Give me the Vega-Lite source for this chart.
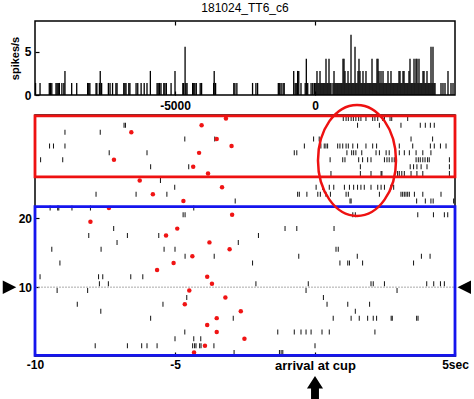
{
"$schema": "https://vega.github.io/schema/vega-lite/v6.json",
"padding": {"left": 2, "top": 1, "right": 3, "bottom": 0},
"bounds": "flush",
"spacing": 20,
"background": "white",
"config": {
  "view": {"stroke": "black", "strokeWidth": 1.5},
  "axis": {"labelFont": "Liberation Sans", "labelFontWeight": "bold", "labelFontSize": 12, "labelColor": "black", "tickColor": "black", "tickWidth": 1.2, "tickSize": -4, "domain": false, "grid": false, "labelFlush": false, "titleFont": "Liberation Sans", "titleFontWeight": "bold", "titleColor": "black"}
},
"datasets": {
  "hist": [
    {"t":-9980,"v":1.4},{"t":-9820,"v":1.4},{"t":-9490,"v":1.4},{"t":-9450,"v":1.4},{"t":-9400,"v":1.4},{"t":-9250,"v":1.4},{"t":-9210,"v":1.4},{"t":-9170,"v":1.4},{"t":-9130,"v":1.4},{"t":-9040,"v":1.4},{"t":-8970,"v":1.4},{"t":-8930,"v":2.8},{"t":-8690,"v":1.4},{"t":-8510,"v":1.4},{"t":-8120,"v":1.4},{"t":-8080,"v":1.4},{"t":-8040,"v":1.4},{"t":-7820,"v":1.4},{"t":-7790,"v":1.4},{"t":-7700,"v":1.4},{"t":-7670,"v":2.8},{"t":-7620,"v":1.4},{"t":-7380,"v":1.4},{"t":-7320,"v":1.4},{"t":-7230,"v":1.4},{"t":-7110,"v":1.4},{"t":-7070,"v":1.4},{"t":-6830,"v":1.4},{"t":-6790,"v":1.4},{"t":-6750,"v":1.4},{"t":-6650,"v":1.4},{"t":-6610,"v":1.4},{"t":-6390,"v":1.4},{"t":-6330,"v":1.4},{"t":-6210,"v":1.4},{"t":-6100,"v":1.4},{"t":-6000,"v":1.4},{"t":-5880,"v":2.8},{"t":-5640,"v":1.4},{"t":-5600,"v":1.4},{"t":-5550,"v":1.4},{"t":-5500,"v":1.4},{"t":-5400,"v":1.4},{"t":-5360,"v":1.4},{"t":-5310,"v":1.4},{"t":-5140,"v":1.4},{"t":-5000,"v":2.8},{"t":-4720,"v":1.4},{"t":-4690,"v":1.4},{"t":-4640,"v":5.6},{"t":-4610,"v":1.4},{"t":-4570,"v":1.4},{"t":-4370,"v":1.4},{"t":-4330,"v":1.4},{"t":-4290,"v":1.4},{"t":-4240,"v":1.4},{"t":-4100,"v":1.4},{"t":-4050,"v":1.4},{"t":-3620,"v":1.4},{"t":-3600,"v":2.8},{"t":-3550,"v":1.4},{"t":-2900,"v":1.4},{"t":-2860,"v":1.4},{"t":-2790,"v":1.4},{"t":-2230,"v":1.4},{"t":-2110,"v":1.4},{"t":-2050,"v":1.4},{"t":-1310,"v":1.4},{"t":-1260,"v":1.4},{"t":-1210,"v":1.4},{"t":-1140,"v":1.4},{"t":-1100,"v":1.4},{"t":-760,"v":2.8},{"t":-710,"v":1.4},{"t":-670,"v":1.4},{"t":-620,"v":2.8},{"t":-580,"v":2.8},{"t":-500,"v":1.4},{"t":-350,"v":1.4},{"t":-310,"v":4.2},{"t":-260,"v":1.4},{"t":-140,"v":1.4},{"t":-80,"v":1.4},{"t":-25,"v":1.4},
    {"t":0,"v":1.4},{"t":36,"v":1.4},{"t":71,"v":2.8},{"t":107,"v":1.4},{"t":143,"v":1.4},{"t":179,"v":2.8},{"t":214,"v":1.4},{"t":250,"v":1.4},{"t":286,"v":1.4},{"t":321,"v":1.4},{"t":357,"v":1.4},{"t":393,"v":4.2},{"t":429,"v":1.4},{"t":464,"v":1.4},{"t":500,"v":4.2},{"t":536,"v":1.4},{"t":571,"v":1.4},{"t":643,"v":1.4},{"t":679,"v":2.8},{"t":714,"v":1.4},{"t":750,"v":1.4},{"t":786,"v":1.4},{"t":821,"v":1.4},{"t":857,"v":1.4},{"t":893,"v":1.4},{"t":929,"v":1.4},{"t":964,"v":1.4},{"t":1000,"v":4.2},{"t":1036,"v":4.2},{"t":1071,"v":2.8},{"t":1107,"v":1.4},{"t":1143,"v":1.4},{"t":1179,"v":2.8},{"t":1214,"v":1.4},{"t":1250,"v":1.4},{"t":1286,"v":7.0},{"t":1321,"v":1.4},{"t":1357,"v":1.4},{"t":1393,"v":1.4},{"t":1429,"v":5.6},{"t":1464,"v":1.4},{"t":1500,"v":1.4},{"t":1536,"v":2.8},{"t":1571,"v":4.2},{"t":1607,"v":2.8},{"t":1643,"v":1.4},{"t":1679,"v":1.4},{"t":1714,"v":2.8},{"t":1750,"v":1.4},{"t":1786,"v":1.4},{"t":1821,"v":2.8},{"t":1857,"v":1.4},{"t":1893,"v":1.4},{"t":1929,"v":1.4},{"t":1964,"v":1.4},{"t":2000,"v":1.4},{"t":2036,"v":4.2},{"t":2071,"v":1.4},{"t":2107,"v":1.4},{"t":2143,"v":1.4},{"t":2179,"v":1.4},{"t":2214,"v":4.2},{"t":2250,"v":4.2},{"t":2286,"v":2.8},{"t":2321,"v":1.4},{"t":2357,"v":2.8},{"t":2393,"v":1.4},{"t":2429,"v":2.8},{"t":2464,"v":1.4},{"t":2500,"v":1.4},{"t":2536,"v":1.4},{"t":2571,"v":1.4},{"t":2607,"v":2.8},{"t":2643,"v":1.4},{"t":2679,"v":1.4},{"t":2714,"v":2.8},{"t":2750,"v":1.4},{"t":2786,"v":1.4},{"t":2821,"v":1.4},{"t":2857,"v":1.4},{"t":2893,"v":1.4},{"t":2929,"v":1.4},{"t":2964,"v":1.4},{"t":3000,"v":2.8},{"t":3036,"v":2.8},{"t":3071,"v":1.4},{"t":3107,"v":1.4},{"t":3143,"v":2.8},{"t":3179,"v":2.8},{"t":3214,"v":1.4},{"t":3250,"v":1.4},{"t":3286,"v":1.4},{"t":3321,"v":1.4},{"t":3357,"v":2.8},{"t":3393,"v":4.2},{"t":3429,"v":1.4},{"t":3464,"v":1.4},{"t":3500,"v":1.4},{"t":3536,"v":4.2},{"t":3571,"v":1.4},{"t":3607,"v":4.2},{"t":3643,"v":4.2},{"t":3679,"v":1.4},{"t":3714,"v":4.2},{"t":3750,"v":1.4},{"t":3786,"v":1.4},{"t":3821,"v":1.4},{"t":3857,"v":2.8},{"t":3893,"v":2.8},{"t":3929,"v":1.4},{"t":3964,"v":1.4},{"t":4000,"v":2.8},{"t":4036,"v":1.4},{"t":4071,"v":1.4},{"t":4107,"v":1.4},{"t":4143,"v":5.6},{"t":4179,"v":1.4},{"t":4214,"v":5.6},{"t":4250,"v":1.4},{"t":4286,"v":1.4},{"t":4500,"v":1.4},{"t":4571,"v":1.4},{"t":4643,"v":1.4},{"t":4750,"v":2.8},{"t":4857,"v":1.4},{"t":4929,"v":1.4}
  ],
  "spikes": [
    {"t":1.01,"trial":34.5},{"t":1.11,"trial":34.5},{"t":1.19,"trial":34.5},{"t":1.29,"trial":34.5},{"t":1.37,"trial":34.5},{"t":1.46,"trial":34.5},{"t":1.56,"trial":34.5},{"t":1.64,"trial":34.5},{"t":1.82,"trial":34.5},{"t":2.06,"trial":34.5},{"t":2.14,"trial":34.5},{"t":2.24,"trial":34.5},{"t":2.42,"trial":34.5},{"t":2.48,"trial":34.5},{"t":2.68,"trial":34.5},{"t":2.74,"trial":34.5},{"t":3.31,"trial":34.5},
    {"t":-6.82,"trial":33.5},{"t":-6.77,"trial":33.5},{"t":1.52,"trial":33.5},{"t":2.30,"trial":33.5},{"t":3.07,"trial":33.5},{"t":3.76,"trial":33.5},{"t":3.94,"trial":33.5},{"t":4.12,"trial":33.5},{"t":4.26,"trial":33.5},
    {"t":-8.93,"trial":32.5},{"t":-7.67,"trial":32.5},
    {"t":-4.65,"trial":31.5},{"t":-3.58,"trial":31.5},{"t":-0.05,"trial":31.5},{"t":0.15,"trial":31.5},{"t":3.43,"trial":31.5},{"t":4.20,"trial":31.5},
    {"t":-9.48,"trial":30.5},{"t":-9.34,"trial":30.5},{"t":-8.93,"trial":30.5},{"t":-0.38,"trial":30.5},{"t":0.21,"trial":30.5},{"t":0.33,"trial":30.5},{"t":0.39,"trial":30.5},{"t":0.45,"trial":30.5},{"t":0.81,"trial":30.5},{"t":0.89,"trial":30.5},{"t":0.99,"trial":30.5},{"t":1.11,"trial":30.5},{"t":1.19,"trial":30.5},{"t":1.35,"trial":30.5},{"t":1.52,"trial":30.5},{"t":1.82,"trial":30.5},{"t":2.06,"trial":30.5},{"t":2.20,"trial":30.5},{"t":3.01,"trial":30.5},{"t":3.49,"trial":30.5},{"t":4.12,"trial":30.5},{"t":4.26,"trial":30.5},{"t":4.48,"trial":30.5},{"t":4.68,"trial":30.5},
    {"t":-7.35,"trial":29.5},{"t":-6.0,"trial":29.5},{"t":-0.74,"trial":29.5},{"t":-0.65,"trial":29.5},{"t":1.14,"trial":29.5},{"t":1.31,"trial":29.5},{"t":1.38,"trial":29.5},{"t":1.46,"trial":29.5},{"t":1.67,"trial":29.5},{"t":2.18,"trial":29.5},{"t":2.30,"trial":29.5},{"t":2.54,"trial":29.5},{"t":2.65,"trial":29.5},{"t":3.01,"trial":29.5},{"t":3.19,"trial":29.5},{"t":3.37,"trial":29.5},{"t":3.61,"trial":29.5},{"t":3.85,"trial":29.5},{"t":4.14,"trial":29.5},
    {"t":-9.8,"trial":28.5},{"t":-9.01,"trial":28.5},{"t":0.54,"trial":28.5},{"t":0.99,"trial":28.5},{"t":1.07,"trial":28.5},{"t":1.56,"trial":28.5},{"t":1.70,"trial":28.5},{"t":1.88,"trial":28.5},{"t":2.0,"trial":28.5},{"t":2.48,"trial":28.5},{"t":2.57,"trial":28.5},{"t":2.65,"trial":28.5},{"t":2.75,"trial":28.5},{"t":2.83,"trial":28.5},{"t":3.61,"trial":28.5},{"t":3.69,"trial":28.5},{"t":3.76,"trial":28.5},{"t":3.85,"trial":28.5},{"t":3.93,"trial":28.5},{"t":4.02,"trial":28.5},{"t":4.08,"trial":28.5},{"t":4.80,"trial":28.5},
    {"t":-5.87,"trial":27.5},{"t":-4.51,"trial":27.5},{"t":1.62,"trial":27.5},{"t":3.40,"trial":27.5},{"t":3.52,"trial":27.5},{"t":3.64,"trial":27.5},{"t":3.79,"trial":27.5},{"t":4.0,"trial":27.5},{"t":4.80,"trial":27.5},
    {"t":0.57,"trial":26.5},{"t":1.62,"trial":26.5},{"t":2.0,"trial":26.5},{"t":2.36,"trial":26.5},{"t":2.39,"trial":26.5},{"t":2.95,"trial":26.5},{"t":3.01,"trial":26.5},{"t":3.10,"trial":26.5},{"t":3.19,"trial":26.5},{"t":3.43,"trial":26.5},{"t":3.64,"trial":26.5},{"t":3.85,"trial":26.5},{"t":4.80,"trial":26.5},
    {"t":-5.52,"trial":25.5},
    {"t":-5.01,"trial":24.5},{"t":0.04,"trial":24.5},{"t":0.27,"trial":24.5},{"t":0.51,"trial":24.5},{"t":0.67,"trial":24.5},{"t":1.05,"trial":24.5},{"t":1.23,"trial":24.5},{"t":1.38,"trial":24.5},{"t":1.52,"trial":24.5},{"t":1.64,"trial":24.5},{"t":1.76,"trial":24.5},{"t":2.0,"trial":24.5},{"t":2.24,"trial":24.5},{"t":2.36,"trial":24.5},{"t":2.48,"trial":24.5},{"t":2.71,"trial":24.5},{"t":2.81,"trial":24.5},
    {"t":-7.82,"trial":23.5},{"t":-6.39,"trial":23.5},{"t":-5.29,"trial":23.5},{"t":-0.62,"trial":23.5},{"t":-0.56,"trial":23.5},{"t":-0.29,"trial":23.5},{"t":0.10,"trial":23.5},{"t":0.19,"trial":23.5},{"t":0.39,"trial":23.5},{"t":0.55,"trial":23.5},{"t":1.11,"trial":23.5},{"t":1.19,"trial":23.5},{"t":2.30,"trial":23.5},{"t":3.07,"trial":23.5},{"t":3.13,"trial":23.5},{"t":3.19,"trial":23.5},{"t":3.25,"trial":23.5},{"t":3.31,"trial":23.5},{"t":3.37,"trial":23.5},{"t":3.55,"trial":23.5},{"t":3.85,"trial":23.5},{"t":4.5,"trial":23.5},
    {"t":-2.85,"trial":22.5},{"t":1.25,"trial":22.5},{"t":1.29,"trial":22.5},{"t":3.63,"trial":22.5},{"t":3.94,"trial":22.5},{"t":4.14,"trial":22.5},{"t":4.22,"trial":22.5},{"t":4.95,"trial":22.5},
    {"t":-9.46,"trial":21.5},{"t":-9.19,"trial":21.5},{"t":-9.15,"trial":21.5},{"t":-8.68,"trial":21.5},{"t":-8.02,"trial":21.5},{"t":-4.33,"trial":21.5},
    {"t":-4.71,"trial":20.5},{"t":-4.64,"trial":20.5},{"t":1.35,"trial":20.5},{"t":1.44,"trial":20.5},{"t":3.67,"trial":20.5},{"t":4.23,"trial":20.5},{"t":4.62,"trial":20.5},{"t":4.74,"trial":20.5},
    {"t":-7.19,"trial":18.5},{"t":-1.07,"trial":18.5},{"t":-0.65,"trial":18.5},{"t":0.68,"trial":18.5},
    {"t":-8.08,"trial":17.5},{"t":-6.70,"trial":17.5},{"t":-5.58,"trial":17.5},{"t":-2.02,"trial":17.5},
    {"t":-7.07,"trial":16.5},{"t":-2.74,"trial":16.5},
    {"t":-9.40,"trial":15.5},{"t":-7.64,"trial":15.5},{"t":-5.39,"trial":15.5},{"t":-5.0,"trial":15.5},{"t":0.75,"trial":15.5},{"t":0.83,"trial":15.5},
    {"t":-4.64,"trial":14.5},{"t":-3.6,"trial":14.5},{"t":-0.58,"trial":14.5},{"t":1.51,"trial":14.5},{"t":3.80,"trial":14.5},{"t":4.11,"trial":14.5},
    {"t":-9.11,"trial":13.5},{"t":-2.23,"trial":13.5},{"t":0.89,"trial":13.5},{"t":1.17,"trial":13.5},{"t":1.23,"trial":13.5},{"t":1.70,"trial":13.5},{"t":3.52,"trial":13.5},
    {"t":-9.82,"trial":11.5},{"t":-7.73,"trial":11.5},{"t":-7.58,"trial":11.5},{"t":-6.58,"trial":11.5},{"t":-6.15,"trial":11.5},
    {"t":-7.70,"trial":10.5},{"t":-7.38,"trial":10.5},{"t":-2.11,"trial":10.5},{"t":-0.24,"trial":10.5},{"t":2.0,"trial":10.5},{"t":2.08,"trial":10.5},{"t":2.48,"trial":10.5},{"t":3.99,"trial":10.5},{"t":4.24,"trial":10.5},{"t":4.48,"trial":10.5},{"t":4.62,"trial":10.5},
    {"t":-9.21,"trial":9.5},{"t":-8.12,"trial":9.5},{"t":-0.32,"trial":9.5},{"t":2.93,"trial":9.5},
    {"t":-4.58,"trial":8.5},{"t":0.30,"trial":8.5},
    {"t":-8.49,"trial":7.5},{"t":-5.43,"trial":7.5},{"t":0.43,"trial":7.5},{"t":1.17,"trial":7.5},{"t":1.95,"trial":7.5},
    {"t":-7.65,"trial":6.5},{"t":1.44,"trial":6.5},
    {"t":-5.87,"trial":5.5},{"t":-2.92,"trial":5.5},{"t":0.65,"trial":5.5},{"t":1.29,"trial":5.5},{"t":1.58,"trial":5.5},{"t":1.88,"trial":5.5},{"t":2.08,"trial":5.5},{"t":2.20,"trial":5.5},{"t":2.72,"trial":5.5},{"t":2.76,"trial":5.5},{"t":3.63,"trial":5.5},{"t":3.68,"trial":5.5},
    {"t":-4.65,"trial":3.5},{"t":-1.33,"trial":3.5},{"t":-0.74,"trial":3.5},{"t":-0.5,"trial":3.5},{"t":-0.32,"trial":3.5},{"t":-0.14,"trial":3.5},{"t":0.25,"trial":3.5},{"t":0.51,"trial":3.5},{"t":2.14,"trial":3.5},
    {"t":-5.0,"trial":2.5},{"t":-4.33,"trial":2.5},{"t":-4.08,"trial":2.5},
    {"t":-7.85,"trial":1.5},{"t":-6.70,"trial":1.5},{"t":-6.19,"trial":1.5},{"t":-6.0,"trial":1.5},{"t":-5.64,"trial":1.5},{"t":-4.37,"trial":1.5},{"t":-4.30,"trial":1.5},{"t":-4.25,"trial":1.5},{"t":-4.12,"trial":1.5},{"t":-4.07,"trial":1.5},{"t":-3.61,"trial":1.5},{"t":0.0,"trial":1.5},
    {"t":-2.89,"trial":0.5},{"t":-1.27,"trial":0.5},{"t":-1.21,"trial":0.5},{"t":-1.15,"trial":0.5}
  ],
  "events": [
    {"t":-3.18,"trial":34.5},{"t":-4.05,"trial":33.5},{"t":-6.56,"trial":32.5},{"t":-3.51,"trial":31.5},{"t":-2.98,"trial":30.5},{"t":-4.14,"trial":29.5},{"t":-7.18,"trial":28.5},{"t":-4.35,"trial":27.5},{"t":-3.82,"trial":26.5},{"t":-6.26,"trial":25.5},{"t":-3.32,"trial":24.5},{"t":-5.79,"trial":23.5},{"t":-4.70,"trial":22.5},{"t":-7.36,"trial":21.5},{"t":-2.96,"trial":20.5},{"t":-8.02,"trial":19.5},{"t":-4.92,"trial":18.5},{"t":-5.32,"trial":17.5},{"t":-3.77,"trial":16.5},{"t":-3.05,"trial":15.5},{"t":-4.38,"trial":14.5},{"t":-5.05,"trial":13.5},{"t":-5.64,"trial":12.5},{"t":-3.85,"trial":11.5},{"t":-3.68,"trial":10.5},{"t":-4.49,"trial":9.5},{"t":-3.20,"trial":8.5},{"t":-4.65,"trial":7.5},{"t":-2.65,"trial":6.5},{"t":-3.51,"trial":5.5},{"t":-3.85,"trial":4.5},{"t":-3.51,"trial":3.5},{"t":-2.52,"trial":2.5},{"t":-3.93,"trial":1.5},{"t":-4.32,"trial":0.5}
  ],
  "boxes": [
    {"t": -10, "t2": 5, "trial": 26.02, "trial2": 34.87, "box": "red"},
    {"t": -10, "t2": 5, "trial": 0.1, "trial2": 21.7, "box": "blue"}
  ]
},
"vconcat": [
  {
    "width": 420, "height": 74,
    "title": {"text": "181024_TT6_c6", "font": "Liberation Sans", "fontSize": 12, "fontWeight": "normal", "color": "black", "baseline": "alphabetic", "offset": -4, "anchor": "middle"},
    "data": {"name": "hist"},
    "layer": [
      {"mark": {"type": "rule", "color": "black", "strokeWidth": 1.3},
       "encoding": {
         "x": {"field": "t", "type": "quantitative", "scale": {"domain": [-10000, 5000], "nice": false, "zero": false}, "axis": {"orient": "bottom", "values": [-5000, 0], "title": null, "labelPadding": 9.5, "labelExpr": "'' + datum.value"}},
         "y": {"field": "v", "type": "quantitative", "scale": {"domain": [0, 8.6], "nice": false}, "axis": {"values": [0, 5], "title": "spikes/s", "titleFontSize": 11, "titlePadding": 4, "labelPadding": 8}},
         "y2": {"datum": 0}
       }},
      {"mark": {"type": "point", "opacity": 0},
       "encoding": {
         "x": {"field": "t", "type": "quantitative", "scale": {"domain": [-10000, 5000], "nice": false, "zero": false}, "axis": {"orient": "top", "values": [-5000, 0], "labels": false, "title": null}},
         "y": {"field": "v", "type": "quantitative", "scale": {"domain": [0, 8.6], "nice": false}, "axis": {"values": [0, 5], "title": "spikes/s", "titleFontSize": 11, "titlePadding": 4, "labelPadding": 8}}
       }}
    ]
  },
  {
    "width": 420, "height": 241,
    "encoding": {
      "x": {"field": "t", "type": "quantitative", "scale": {"domain": [-10, 5], "nice": false, "zero": false}, "axis": {"values": [-10, -5, 0, 5], "title": null, "labelPadding": 7, "labelExpr": "datum.value == 0 ? '\u00a0\u00a0\u00a0\u00a0\u00a0\u00a0arrival at cup' : datum.value == 5 ? '5sec\u00a0\u00a0\u00a0\u00a0' : '' + datum.value", "labelFontSize": {"condition": {"test": "datum.value == 0", "value": 13}, "value": 12}}},
      "y": {"field": "trial", "type": "quantitative", "scale": {"domain": [0, 35], "nice": false, "zero": false}, "axis": {"values": [10, 20], "title": null, "labelPadding": 7.5}}
    },
    "layer": [
      {"data": {"values": [{"t": -10, "t2": 5, "trial": 10}]},
       "mark": {"type": "rule", "color": "#aaaaaa", "strokeDash": [2, 1], "strokeWidth": 1},
       "encoding": {"x2": {"field": "t2"}}},
      {"data": {"name": "spikes"},
       "mark": {"type": "tick", "orient": "vertical", "size": 5, "thickness": 1, "color": "#111111", "opacity": 1}},
      {"data": {"name": "events"},
       "mark": {"type": "point", "filled": true, "size": 20, "color": "#f01414", "opacity": 1}},
      {"data": {"name": "boxes"},
       "mark": {"type": "rect", "fillOpacity": 0, "strokeWidth": 2.8},
       "encoding": {
         "x2": {"field": "t2"},
         "y2": {"field": "trial2"},
         "stroke": {"field": "box", "type": "nominal", "scale": {"domain": ["red", "blue"], "range": ["#ee1111", "#1515ee"]}, "legend": null}
       }},
      {"data": {"values": [{"t": 1.5, "trial": 28.41}]},
       "mark": {"type": "point", "shape": "M0.703,0C0.703,0.552,0.388,1,0,1C-0.388,1,-0.703,0.552,-0.703,0C-0.703,-0.552,-0.388,-1,0,-1C0.388,-1,0.703,-0.552,0.703,0Z", "size": 12321, "filled": false, "color": "#ee1111", "strokeWidth": 2.5, "opacity": 1}},
      {"data": {"values": [{"t": -10.91, "trial": 10, "side": "left"}, {"t": 5.33, "trial": 10, "side": "right"}]},
       "mark": {"type": "point", "filled": true, "size": 182, "color": "black", "opacity": 1},
       "encoding": {
         "shape": {"field": "side", "type": "nominal", "scale": {"domain": ["left", "right"], "range": ["M1,0L-1,-1L-1,1Z", "M-1,0L1,-1L1,1Z"]}, "legend": null}
       }},
      {"data": {"values": [{"t": 0, "trial": -4.63}]},
       "mark": {"type": "point", "shape": "M0,-1L0.67,0.05L0.33,0.05L0.33,1L-0.33,1L-0.33,0.05L-0.67,0.05Z", "size": 576, "filled": true, "color": "black", "opacity": 1}}
    ]
  }
]
}
